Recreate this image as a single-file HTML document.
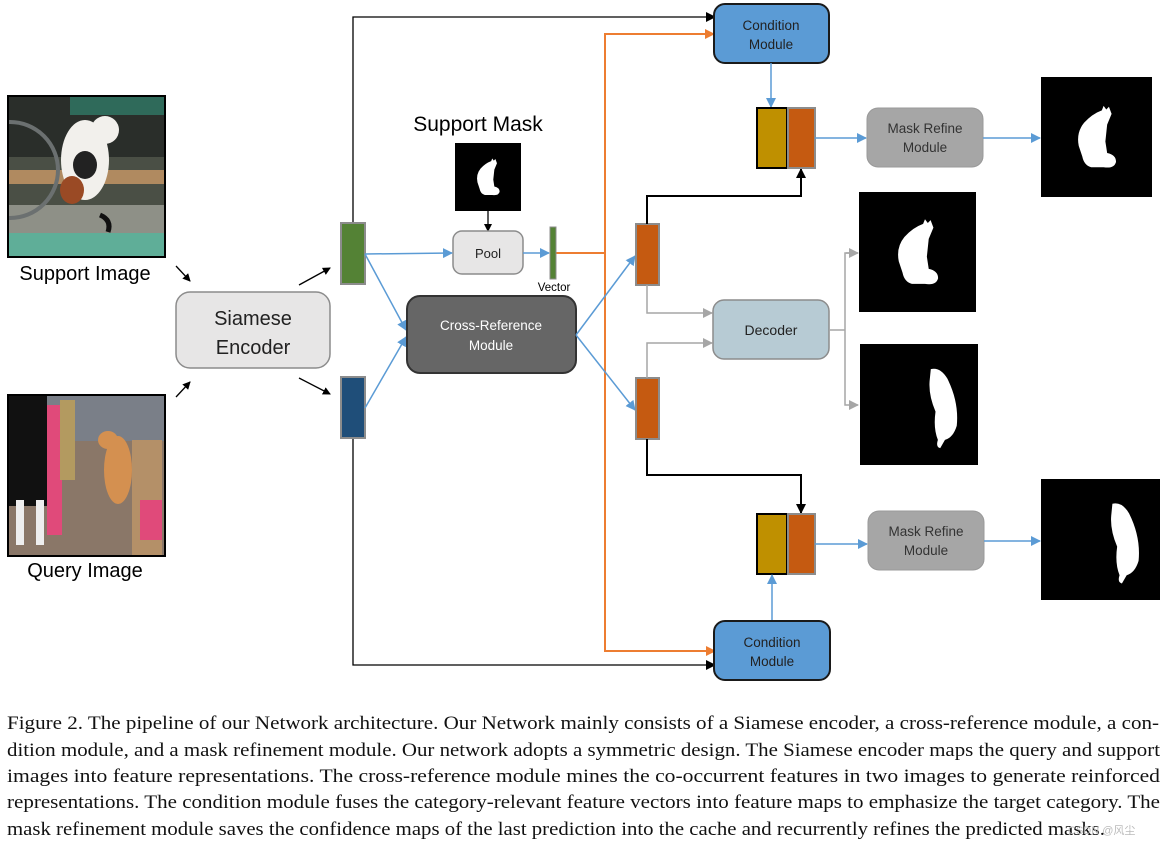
<!DOCTYPE html>
<html><head><meta charset="utf-8"><style>
html,body{margin:0;padding:0;background:#fff;}
svg{display:block;}
.s{font-family:"Liberation Sans",sans-serif;}
.cap{font-family:"Liberation Serif",serif;font-size:19px;fill:#111;}
</style></head><body>
<svg width="1164" height="847" viewBox="0 0 1164 847" xmlns="http://www.w3.org/2000/svg">
<defs>
<clipPath id="cl1"><rect x="9" y="97" width="155" height="159"/></clipPath>
<marker id="ab" markerWidth="8" markerHeight="8" refX="7" refY="4" orient="auto" markerUnits="userSpaceOnUse"><path d="M0,0 L8,4 L0,8 Z" fill="#000"/></marker>
<marker id="au" markerWidth="10" markerHeight="10" refX="9" refY="5" orient="auto" markerUnits="userSpaceOnUse"><path d="M0,0 L10,5 L0,10 Z" fill="#5b9bd5"/></marker>
<marker id="ao" markerWidth="10" markerHeight="10" refX="9" refY="5" orient="auto" markerUnits="userSpaceOnUse"><path d="M0,0 L10,5 L0,10 Z" fill="#ed7d31"/></marker>
<marker id="ag" markerWidth="10" markerHeight="10" refX="9" refY="5" orient="auto" markerUnits="userSpaceOnUse"><path d="M0,0 L10,5 L0,10 Z" fill="#a6a6a6"/></marker>
<marker id="ak" markerWidth="10" markerHeight="10" refX="9" refY="5" orient="auto" markerUnits="userSpaceOnUse"><path d="M0,0 L10,5 L0,10 Z" fill="#000"/></marker>
<g id="sit"><path transform="translate(10,10) scale(0.8)" d="M64,16 L67,24 L62,36 L60,55 L62,68 Q72,70 72,78 Q70,86 58,84 L44,84 Q36,82 34,72 L30,60 Q27,45 36,34 Q45,24 56,20 L58,15 L61,19 Z" fill="#fff"/></g>
<g id="lie"><path d="M60,20 Q68,18 74,28 Q84,48 82,68 Q79,78 72,80 L68,87 Q64,86 66,80 Q62,70 64,56 Q58,42 59,30 Z" fill="#fff"/></g>
</defs>

<!-- support image -->
<rect x="7" y="95" width="159" height="163" fill="#000"/>
<g clip-path="url(#cl1)">
<rect x="9" y="97" width="155" height="159" fill="#4a4f45"/>
<rect x="9" y="97" width="155" height="60" fill="#2a2e2a"/>
<rect x="70" y="97" width="94" height="18" fill="#2f6a5a"/>
<rect x="9" y="170" width="155" height="14" fill="#b08a60"/>
<rect x="9" y="205" width="155" height="28" fill="#8e9087"/>
<rect x="9" y="233" width="155" height="23" fill="#5fae98"/>
<circle cx="10" cy="170" r="48" fill="none" stroke="#6b7070" stroke-width="4"/>
<ellipse cx="85" cy="160" rx="24" ry="40" fill="#f2f0ec"/>
<ellipse cx="105" cy="130" rx="14" ry="14" fill="#f2f0ec"/>
<ellipse cx="85" cy="165" rx="12" ry="14" fill="#222"/>
<ellipse cx="72" cy="190" rx="12" ry="14" fill="#9a4a25"/>
<path d="M100,215 Q112,220 108,232" stroke="#111" stroke-width="5" fill="none"/>
</g>
<text x="85" y="280" class="s" font-size="20" text-anchor="middle" fill="#000">Support Image</text>

<!-- query image -->
<g>
<rect x="7" y="394" width="159" height="163" fill="#000"/>
<rect x="9" y="396" width="155" height="159" fill="#8a7768"/>
<rect x="9" y="396" width="155" height="45" fill="#7a7f88"/>
<rect x="9" y="396" width="38" height="110" fill="#111"/>
<rect x="47" y="405" width="15" height="130" fill="#e04a7a"/>
<rect x="60" y="400" width="15" height="80" fill="#b39a60"/>
<rect x="132" y="440" width="30" height="115" fill="#b49068"/>
<ellipse cx="118" cy="470" rx="14" ry="34" fill="#d49050"/>
<ellipse cx="108" cy="440" rx="10" ry="9" fill="#d49050"/>
<rect x="140" y="500" width="22" height="40" fill="#e04a7a"/>
<rect x="16" y="500" width="8" height="45" fill="#eee"/>
<rect x="36" y="500" width="8" height="45" fill="#eee"/>
</g>
<text x="85" y="577" class="s" font-size="20" text-anchor="middle" fill="#000">Query Image</text>

<!-- small arrows -->
<line x1="176" y1="266" x2="190" y2="281" stroke="#000" stroke-width="1.3" marker-end="url(#ab)"/>
<line x1="176" y1="397" x2="190" y2="382" stroke="#000" stroke-width="1.3" marker-end="url(#ab)"/>
<line x1="299" y1="285" x2="330" y2="268" stroke="#000" stroke-width="1.3" marker-end="url(#ab)"/>
<line x1="299" y1="378" x2="330" y2="394" stroke="#000" stroke-width="1.3" marker-end="url(#ab)"/>

<!-- siamese encoder -->
<rect x="176" y="292" width="154" height="76" rx="14" fill="#e7e6e6" stroke="#8c8c8c" stroke-width="1.5"/>
<text x="253" y="325" class="s" font-size="20" text-anchor="middle" fill="#222">Siamese</text>
<text x="253" y="354" class="s" font-size="20" text-anchor="middle" fill="#222">Encoder</text>

<!-- black long lines -->
<polyline points="353,223 353,17 715,17" fill="none" stroke="#000" stroke-width="1.3" marker-end="url(#ak)"/>
<polyline points="353,438 353,665 715,665" fill="none" stroke="#000" stroke-width="1.3" marker-end="url(#ak)"/>

<!-- orange -->
<polyline points="556,253 605,253" fill="none" stroke="#ed7d31" stroke-width="2"/>
<polyline points="715,34 605,34 605,651 715,651" fill="none" stroke="#ed7d31" stroke-width="2" marker-end="url(#ao)"/>
<line x1="606" y1="34" x2="714" y2="34" stroke="#ed7d31" stroke-width="2" marker-end="url(#ao)"/>

<!-- feature bars -->
<rect x="341" y="223" width="24" height="61" fill="#548235" stroke="#8c8c8c" stroke-width="2"/>
<rect x="341" y="377" width="24" height="61" fill="#1f4e79" stroke="#8c8c8c" stroke-width="2"/>

<!-- support mask -->
<text x="478" y="131" class="s" font-size="21" text-anchor="middle" fill="#000">Support Mask</text>
<rect x="455" y="143" width="66" height="68" fill="#000"/>
<svg x="455" y="143" width="66" height="68" viewBox="0 0 100 100"><use href="#sit"/></svg>
<line x1="488" y1="211" x2="488" y2="231" stroke="#000" stroke-width="1.3" marker-end="url(#ab)"/>

<!-- pool -->
<rect x="453" y="231" width="70" height="43" rx="9" fill="#e7e6e6" stroke="#8c8c8c" stroke-width="1.5"/>
<text x="488" y="258" class="s" font-size="13" text-anchor="middle" fill="#222">Pool</text>
<line x1="365" y1="254" x2="452" y2="253" stroke="#5b9bd5" stroke-width="1.5" marker-end="url(#au)"/>
<line x1="523" y1="253" x2="549" y2="253" stroke="#5b9bd5" stroke-width="1.5" marker-end="url(#au)"/>
<rect x="550" y="227" width="6" height="52" fill="#548235" stroke="#8c8c8c" stroke-width="1"/>
<text x="554" y="291" class="s" font-size="11.5" text-anchor="middle" fill="#000">Vector</text>

<!-- cross ref -->
<line x1="365" y1="254" x2="406" y2="330" stroke="#5b9bd5" stroke-width="1.5" marker-end="url(#au)"/>
<line x1="365" y1="408" x2="406" y2="337" stroke="#5b9bd5" stroke-width="1.5" marker-end="url(#au)"/>
<rect x="407" y="296" width="169" height="77" rx="13" fill="#666" stroke="#333" stroke-width="2"/>
<text x="491" y="330" class="s" font-size="13.5" text-anchor="middle" fill="#fff">Cross-Reference</text>
<text x="491" y="350" class="s" font-size="13.5" text-anchor="middle" fill="#fff">Module</text>
<line x1="576" y1="335" x2="635" y2="256" stroke="#5b9bd5" stroke-width="1.5" marker-end="url(#au)"/>
<line x1="576" y1="335" x2="635" y2="410" stroke="#5b9bd5" stroke-width="1.5" marker-end="url(#au)"/>

<!-- orange bars -->
<rect x="636" y="224" width="23" height="61" fill="#c55a11" stroke="#8c8c8c" stroke-width="2"/>
<rect x="636" y="378" width="23" height="61" fill="#c55a11" stroke="#8c8c8c" stroke-width="2"/>

<!-- black to concat -->
<polyline points="647,224 647,196 801,196 801,169" fill="none" stroke="#000" stroke-width="2" marker-end="url(#ak)"/>
<polyline points="647,439 647,475 801,475 801,513" fill="none" stroke="#000" stroke-width="2" marker-end="url(#ak)"/>

<!-- grey to decoder -->
<polyline points="647,285 647,313 712,313" fill="none" stroke="#a6a6a6" stroke-width="1.5" marker-end="url(#ag)"/>
<polyline points="647,378 647,343 712,343" fill="none" stroke="#a6a6a6" stroke-width="1.5" marker-end="url(#ag)"/>
<rect x="713" y="300" width="116" height="59" rx="11" fill="#b7cbd4" stroke="#8c8c8c" stroke-width="1.5"/>
<text x="771" y="335" class="s" font-size="14" text-anchor="middle" fill="#222">Decoder</text>
<polyline points="829,330 845,330" fill="none" stroke="#a6a6a6" stroke-width="1.5"/>
<polyline points="858,253 845,253 845,405 858,405" fill="none" stroke="#a6a6a6" stroke-width="1.5" marker-end="url(#ag)"/>
<line x1="846" y1="253" x2="858" y2="253" stroke="#a6a6a6" stroke-width="1.5" marker-end="url(#ag)"/>

<!-- decoder masks -->
<rect x="859" y="192" width="117" height="120" fill="#000"/>
<svg x="859" y="192" width="117" height="120" viewBox="0 0 100 100"><use href="#sit"/></svg>
<rect x="860" y="344" width="118" height="121" fill="#000"/>
<svg x="860" y="344" width="118" height="121" viewBox="0 0 100 100"><use href="#lie"/></svg>

<!-- top condition -->
<rect x="714" y="4" width="115" height="59" rx="11" fill="#5b9bd5" stroke="#1a1a1a" stroke-width="2"/>
<text x="771" y="30" class="s" font-size="13.5" text-anchor="middle" fill="#222">Condition</text>
<text x="771" y="49" class="s" font-size="13.5" text-anchor="middle" fill="#222">Module</text>
<line x1="771" y1="63" x2="771" y2="107" stroke="#5b9bd5" stroke-width="1.5" marker-end="url(#au)"/>
<rect x="757" y="108" width="30" height="60" fill="#bf9000" stroke="#000" stroke-width="2"/>
<rect x="788" y="108" width="27" height="60" fill="#c55a11" stroke="#8c8c8c" stroke-width="2"/>
<line x1="815" y1="138" x2="866" y2="138" stroke="#5b9bd5" stroke-width="1.5" marker-end="url(#au)"/>
<rect x="867" y="108" width="116" height="59" rx="11" fill="#a6a6a6" stroke="#999" stroke-width="1"/>
<text x="925" y="133" class="s" font-size="13.5" text-anchor="middle" fill="#333">Mask Refine</text>
<text x="925" y="152" class="s" font-size="13.5" text-anchor="middle" fill="#333">Module</text>
<line x1="983" y1="138" x2="1040" y2="138" stroke="#5b9bd5" stroke-width="1.5" marker-end="url(#au)"/>
<rect x="1041" y="77" width="111" height="120" fill="#000"/>
<svg x="1041" y="77" width="111" height="120" viewBox="0 0 100 100"><use href="#sit"/></svg>

<!-- bottom -->
<rect x="757" y="514" width="30" height="60" fill="#bf9000" stroke="#000" stroke-width="2"/>
<rect x="788" y="514" width="27" height="60" fill="#c55a11" stroke="#8c8c8c" stroke-width="2"/>
<line x1="772" y1="621" x2="772" y2="575" stroke="#5b9bd5" stroke-width="1.5" marker-end="url(#au)"/>
<rect x="714" y="621" width="116" height="59" rx="11" fill="#5b9bd5" stroke="#1a1a1a" stroke-width="2"/>
<text x="772" y="647" class="s" font-size="13.5" text-anchor="middle" fill="#222">Condition</text>
<text x="772" y="666" class="s" font-size="13.5" text-anchor="middle" fill="#222">Module</text>
<line x1="815" y1="544" x2="867" y2="544" stroke="#5b9bd5" stroke-width="1.5" marker-end="url(#au)"/>
<rect x="868" y="511" width="116" height="59" rx="11" fill="#a6a6a6" stroke="#999" stroke-width="1"/>
<text x="926" y="536" class="s" font-size="13.5" text-anchor="middle" fill="#333">Mask Refine</text>
<text x="926" y="555" class="s" font-size="13.5" text-anchor="middle" fill="#333">Module</text>
<line x1="984" y1="541" x2="1040" y2="541" stroke="#5b9bd5" stroke-width="1.5" marker-end="url(#au)"/>
<rect x="1041" y="479" width="119" height="121" fill="#000"/>
<svg x="1041" y="479" width="119" height="121" viewBox="0 0 100 100"><use href="#lie"/></svg>

<!-- caption -->
<text x="7" y="729" class="cap" textLength="1152" lengthAdjust="spacingAndGlyphs">Figure 2. The pipeline of our Network architecture. Our Network mainly consists of a Siamese encoder, a cross-reference module, a con-</text>
<text x="7" y="756" class="cap" textLength="1153" lengthAdjust="spacingAndGlyphs">dition module, and a mask refinement module. Our network adopts a symmetric design. The Siamese encoder maps the query and support</text>
<text x="7" y="782" class="cap" textLength="1153" lengthAdjust="spacingAndGlyphs">images into feature representations.  The cross-reference module mines the co-occurrent features in two images to generate reinforced</text>
<text x="7" y="808" class="cap" textLength="1153" lengthAdjust="spacingAndGlyphs">representations. The condition module fuses the category-relevant feature vectors into feature maps to emphasize the target category. The</text>
<text x="7" y="835" class="cap" textLength="1098" lengthAdjust="spacingAndGlyphs">mask refinement module saves the confidence maps of the last prediction into the cache and recurrently refines the predicted masks.</text>
<text x="1068" y="834" class="s" font-size="11" fill="#bbb">CSDN @风尘</text>
</svg>
</body></html>
